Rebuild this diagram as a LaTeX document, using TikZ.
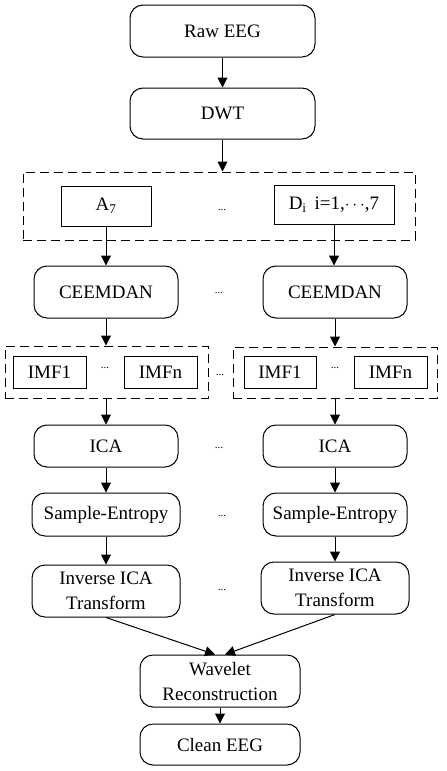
\documentclass[tikz,border=0pt]{standalone}
\usepackage{fontspec}
\setmainfont{Liberation Serif}
\usetikzlibrary{arrows.meta}
\tikzstyle{base}=[x=1pt, y=-1pt, line width=1pt, >={Triangle[length=10pt,width=10pt]}]
\tikzstyle{stage}=[draw, rounded corners=13pt, align=center, inner sep=0pt, font=\fontsize{19}{25}\selectfont]
\tikzstyle{part}=[draw, inner sep=0pt, font=\fontsize{19}{25}\selectfont]
\tikzstyle{group}=[draw, dash pattern=on 9pt off 5pt, inner sep=0pt]
\tikzstyle{more}=[inner sep=0pt, font=\fontsize{11}{11}\selectfont]

\begin{document}
\begin{tikzpicture}[base]
    \path [use as bounding box] (0,0) rectangle (447,771);
        % top of the chain
        \node [stage, minimum width=185pt, minimum height=52pt] (raw) at (222.5,31) {Raw EEG};
        \node [stage, minimum width=185pt, minimum height=51pt] (dwt) at (222.5,113.5) {DWT};
        % wavelet bands
        \node [group, minimum width=392pt, minimum height=68pt] (bands) at (219,206) {};
        \node [part, minimum width=90pt, minimum height=40pt] (a7) at (106,206) {A\textsubscript{7}};
        \node [more] (bandsdots) at (222,210) {...};
        \node [part, minimum width=120pt, minimum height=39pt] (di) at (334,205) {D\textsubscript{i}\, i=1,$\cdots$,7};
        % left branch
        \node [stage, minimum width=144pt, minimum height=52pt] (ceemL) at (106,292) {CEEMDAN};
        \node [group, minimum width=203pt, minimum height=52pt] (imfL) at (106.5,372) {};
        \node [part, minimum width=73pt, minimum height=32pt] (imf1L) at (49.5,372) {IMF1};
        \node [more] (imfdotsL) at (105,368) {...};
        \node [part, minimum width=73pt, minimum height=32pt] (imfnL) at (160.5,372) {IMFn};
        \node [stage, minimum width=144pt, minimum height=42pt] (icaL) at (106,446) {ICA};
        \node [stage, minimum width=148pt, minimum height=43pt] (seL) at (106,514.5) {Sample-Entropy};
        \node [stage, minimum width=148pt, minimum height=52pt] (invL) at (106,591) {Inverse ICA\\Transform};
        % right branch
        \node [stage, minimum width=144pt, minimum height=52pt] (ceemR) at (335,292) {CEEMDAN};
        \node [group, minimum width=204pt, minimum height=51pt] (imfR) at (335,372.5) {};
        \node [part, minimum width=72pt, minimum height=32pt] (imf1R) at (280,372) {IMF1};
        \node [more] (imfdotsR) at (335,368) {...};
        \node [part, minimum width=73pt, minimum height=32pt] (imfnR) at (390.5,372) {IMFn};
        \node [stage, minimum width=144pt, minimum height=42pt] (icaR) at (335,446) {ICA};
        \node [stage, minimum width=144pt, minimum height=43pt] (seR) at (335,514.5) {Sample-Entropy};
        \node [stage, minimum width=148pt, minimum height=52pt] (invR) at (335,588) {Inverse ICA\\Transform};
        % dots between branches
        \node [more] (ceemdots) at (219,293) {...};
        \node [more] (imfdots) at (220,375) {...};
        \node [more] (icadots) at (219,448) {...};
        \node [more] (sedots) at (222,516) {...};
        \node [more] (invdots) at (222,590) {...};
        % bottom of the chain
        \node [stage, minimum width=160pt, minimum height=52pt] (wav) at (220,681) {Wavelet\\Reconstruction};
        \node [stage, minimum width=160pt, minimum height=41pt] (clean) at (220,744.5) {Clean EEG};
        % arrows
        \draw [->] (raw) -- (dwt);
        \draw [->] (dwt.south) -- (dwt.south |- bands.north);
        \draw [->] (a7) -- (ceemL);
        \draw [->] (di.south) -- (di.south |- ceemR.north);
        \draw [->] (ceemL) -- (ceemL |- imfL.north);
        \draw [->] (ceemR) -- (ceemR |- imfR.north);
        \draw [->] (imfL.south -| icaL) -- (icaL);
        \draw [->] (imfR.south -| icaR) -- (icaR);
        \draw [->] (icaL) -- (seL);
        \draw [->] (icaR) -- (seR);
        \draw [->] (seL) -- (invL);
        \draw [->] (seR) -- (invR);
        \draw [->] (invL.south) -- ([xshift=-5pt]wav.north);
        \draw [->] (invR.south) -- ([xshift=5pt]wav.north);
        \draw [->] (wav) -- (clean);
    \end{tikzpicture}
\end{document}
